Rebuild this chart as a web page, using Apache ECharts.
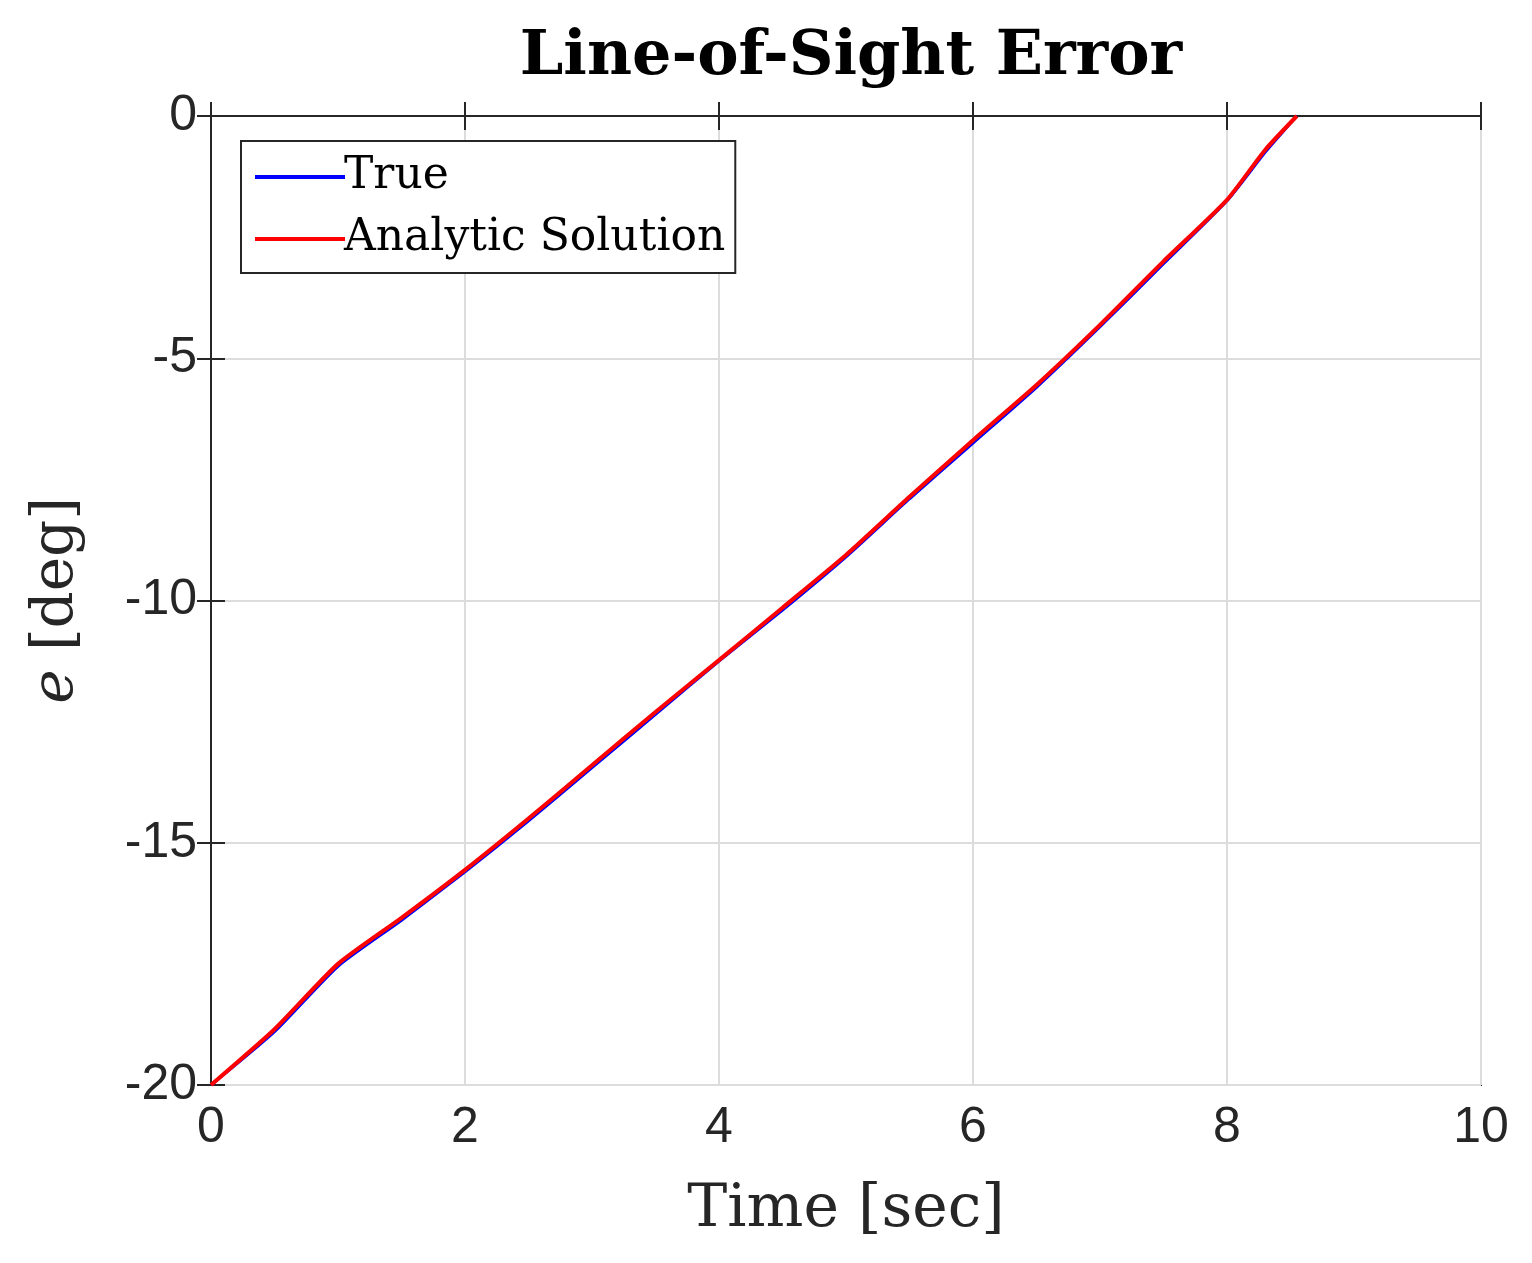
<!DOCTYPE html>
<html>
<head>
<meta charset="utf-8">
<style>
  body { margin: 0; padding: 0; background: #fff; }
  #main { width: 1532px; height: 1263px; }
</style>
</head>
<body>
<div id="main"></div>
<script src="https://cdn.jsdelivr.net/npm/echarts@6/dist/echarts.min.js"></script>
<script type="text/javascript">
// time [sec] and LOS error [deg]
var timeVals = [0, 0.5, 1, 1.5, 2, 2.5, 3, 3.5, 4, 4.5, 5, 5.5, 6, 6.5, 7, 7.5, 8, 8.3, 8.55];
var trueVals = [-20, -18.9, -17.55, -16.6, -15.6, -14.55, -13.45, -12.35, -11.25, -10.2, -9.1, -7.9, -6.75, -5.6, -4.35, -3.05, -1.75, -0.75, 0];
var analyticVals = [-20, -18.85, -17.5, -16.55, -15.56, -14.5, -13.4, -12.3, -11.23, -10.15, -9.06, -7.86, -6.69, -5.55, -4.31, -3.0, -1.73, -0.7, 0];

function pairs(xs, ys) {
    return xs.map(function (x, i) { return [x, ys[i]]; });
}

var tickFont = { fontFamily: 'Liberation Sans, Arial, sans-serif', fontSize: 50, color: '#262626' };
var serif = 'DejaVu Serif, Liberation Serif, serif';
var tick = { show: true, inside: true, length: 14, lineStyle: { color: '#262626', width: 2 } };
var line = { show: true, lineStyle: { color: '#262626', width: 2 } };

var myChart = echarts.init(document.getElementById('main'));
myChart.setOption({
    animation: false,
    backgroundColor: '#fff',
    title: {
        text: 'Line-of-Sight Error',
        left: 846, top: 22, textAlign: 'center',
        textStyle: { fontFamily: serif, fontWeight: 'bold', fontSize: 62, color: '#000' }
    },
    legend: {
        left: 241, top: 141, orient: 'vertical',
        padding: [14, 10, 12, 14], itemGap: 18,
        borderColor: '#262626', borderWidth: 2, backgroundColor: '#fff',
        itemWidth: 90, itemHeight: 4,
        textStyle: { fontFamily: serif, fontSize: 44, color: '#000', padding: [0, 0, 0, -6] },
        data: [
            { name: 'True', icon: 'rect', itemStyle: { color: '#0000ff' } },
            { name: 'Analytic Solution', icon: 'rect', itemStyle: { color: '#ff0000' } }
        ]
    },
    grid: { left: 211, right: 51, top: 116, bottom: 178, show: true, borderColor: '#262626', borderWidth: 2 },
    xAxis: [{
        type: 'value', min: 0, max: 10, interval: 2,
        name: 'Time [sec]', nameLocation: 'middle', nameGap: 95,
        nameTextStyle: { fontFamily: serif, fontSize: 60, color: '#262626' },
        axisLine: line, axisTick: tick,
        axisLabel: Object.assign({ margin: 18 }, tickFont),
        splitLine: { lineStyle: { color: '#dcdcdc', width: 2 } }
    }, {
        type: 'value', min: 0, max: 10, interval: 2, position: 'top',
        axisLine: line, axisTick: tick,
        axisLabel: { show: false }, splitLine: { show: false }
    }],
    yAxis: [{
        type: 'value', min: -20, max: 0, interval: 5,
        name: '{i|e} [deg]', nameLocation: 'middle', nameGap: 125, nameRotate: 90,
        nameTextStyle: { fontFamily: serif, fontSize: 58, color: '#262626',
            rich: { i: { fontFamily: serif, fontSize: 58, fontStyle: 'italic', color: '#262626' } } },
        axisLine: line, axisTick: tick,
        axisLabel: Object.assign({ margin: 14 }, tickFont),
        splitLine: { lineStyle: { color: '#dcdcdc', width: 2 } }
    }, {
        type: 'value', min: -20, max: 0, interval: 5, position: 'right',
        axisLine: line, axisTick: tick,
        axisLabel: { show: false }, splitLine: { show: false }
    }],
    series: [{
        name: 'True', type: 'line', smooth: 0.2, showSymbol: false,
        lineStyle: { color: '#0000ff', width: 3 }, itemStyle: { color: '#0000ff' },
        data: pairs(timeVals, trueVals)
    }, {
        name: 'Analytic Solution', type: 'line', smooth: 0.2, showSymbol: false,
        lineStyle: { color: '#ff0000', width: 4 }, itemStyle: { color: '#ff0000' },
        data: pairs(timeVals, analyticVals)
    }]
});
</script>
</body>
</html>
